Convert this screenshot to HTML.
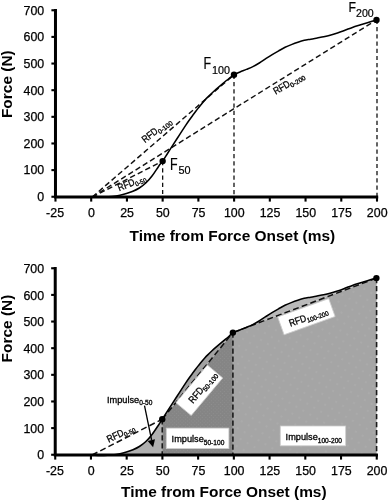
<!DOCTYPE html><html><head><meta charset="utf-8"><title>Force-time curve</title><style>html,body{margin:0;padding:0;background:#fff}svg{display:block}</style></head><body><svg width="388" height="500" viewBox="0 0 388 500" font-family="'Liberation Sans', Arial, sans-serif"><rect width="388" height="500" fill="#fff"/><defs><pattern id="pd" width="2.6" height="2.6" patternUnits="userSpaceOnUse" patternTransform="rotate(45)"><rect width="2.6" height="2.6" fill="#858585"/><circle cx="1.3" cy="1.3" r="0.5" fill="#929292"/></pattern><pattern id="pl" width="8" height="8" patternUnits="userSpaceOnUse" patternTransform="rotate(30)"><rect width="8" height="8" fill="#a5a5a5"/><circle cx="4" cy="4" r="0.9" fill="#adadad"/></pattern></defs><path d="M92.30 197.00 L234.00 74.80" stroke="#111" stroke-width="1.45" stroke-dasharray="5.4 3.1" fill="none"/><path d="M92.30 197.00 L376.50 19.90" stroke="#111" stroke-width="1.45" stroke-dasharray="5.4 3.1" fill="none"/><path d="M92.30 197.00 L162.65 161.10" stroke="#111" stroke-width="1.45" stroke-dasharray="5.4 3.1" fill="none"/><path d="M162.65 161.10 L162.65 197.00" stroke="#111" stroke-width="1.3" stroke-dasharray="4.2 3" fill="none"/><path d="M234.00 74.80 L234.00 197.00" stroke="#111" stroke-width="1.3" stroke-dasharray="4.2 3" fill="none"/><path d="M377.00 19.90 L377.00 197.00" stroke="#111" stroke-width="1.3" stroke-dasharray="4.2 3" fill="none"/><path d="M92.30 197.00 C94.25 196.99 100.72 197.03 104.00 196.95 C107.28 196.87 109.33 196.78 112.00 196.50 C114.67 196.22 117.60 195.78 120.00 195.30 C122.40 194.82 124.25 194.27 126.40 193.60 C128.55 192.93 130.75 192.23 132.90 191.30 C135.05 190.37 137.15 189.38 139.30 188.00 C141.45 186.62 143.65 185.05 145.80 183.00 C147.95 180.95 150.05 178.50 152.20 175.70 C154.35 172.90 156.96 168.63 158.70 166.20 C160.44 163.77 161.13 163.30 162.65 161.10 C164.17 158.90 166.08 155.70 167.80 153.00 C169.53 150.30 171.05 147.93 173.00 144.90 C174.95 141.87 177.33 138.13 179.50 134.80 C181.67 131.47 184.42 127.28 186.00 124.90 C187.58 122.52 187.92 122.03 189.00 120.50 C190.08 118.97 191.33 117.28 192.50 115.70 C193.67 114.12 194.92 112.42 196.00 111.00 C197.08 109.58 198.00 108.45 199.00 107.20 C200.00 105.95 201.00 104.70 202.00 103.50 C203.00 102.30 204.00 101.11 205.00 100.00 C206.00 98.89 206.83 98.02 208.00 96.85 C209.17 95.68 210.67 94.24 212.00 93.00 C213.33 91.76 214.25 90.93 216.00 89.40 C217.75 87.88 220.33 85.67 222.50 83.85 C224.67 82.03 227.08 80.01 229.00 78.50 C230.92 76.99 232.17 75.88 234.00 74.80 C235.83 73.72 237.93 72.90 240.00 72.00 C242.07 71.10 244.25 70.30 246.40 69.40 C248.55 68.50 250.75 67.67 252.90 66.60 C255.05 65.53 257.15 64.32 259.30 63.00 C261.45 61.68 263.65 60.10 265.80 58.70 C267.95 57.30 270.05 55.92 272.20 54.60 C274.35 53.28 276.55 52.02 278.70 50.80 C280.85 49.58 282.98 48.33 285.10 47.30 C287.22 46.27 289.27 45.45 291.40 44.60 C293.53 43.75 295.75 42.92 297.90 42.20 C300.05 41.48 302.15 40.80 304.30 40.30 C306.45 39.80 308.65 39.58 310.80 39.20 C312.95 38.82 315.05 38.40 317.20 38.00 C319.35 37.60 321.55 37.25 323.70 36.80 C325.85 36.35 327.80 35.93 330.10 35.30 C332.40 34.67 335.03 33.83 337.50 33.00 C339.97 32.17 342.42 31.23 344.90 30.30 C347.38 29.37 349.90 28.28 352.40 27.40 C354.90 26.52 357.40 25.78 359.90 25.00 C362.40 24.22 364.63 23.55 367.40 22.70 C370.17 21.85 374.98 20.37 376.50 19.90" stroke="#000" stroke-width="1.55" fill="none"/><circle cx="162.65" cy="161.10" r="3.2" fill="#000"/><circle cx="234.00" cy="74.80" r="3.2" fill="#000"/><circle cx="376.50" cy="19.90" r="3.2" fill="#000"/><g stroke="#000" stroke-width="3.0" fill="none"><path d="M55.48 8.90 V197.00 H378.20"/></g><g stroke="#000" stroke-width="2.1" fill="none"><path d="M51.40 196.75 H55.48"/><path d="M51.40 170.11 H55.48"/><path d="M51.40 143.47 H55.48"/><path d="M51.40 116.83 H55.48"/><path d="M51.40 90.19 H55.48"/><path d="M51.40 63.55 H55.48"/><path d="M51.40 36.91 H55.48"/><path d="M51.40 10.27 H55.48"/><path d="M55.48 197.00 V201.60"/><path d="M91.20 197.00 V201.60"/><path d="M126.93 197.00 V201.60"/><path d="M162.65 197.00 V201.60"/><path d="M198.38 197.00 V201.60"/><path d="M234.10 197.00 V201.60"/><path d="M269.82 197.00 V201.60"/><path d="M305.55 197.00 V201.60"/><path d="M341.28 197.00 V201.60"/><path d="M377.00 197.00 V201.60"/></g><g font-size="12.4" fill="#000" stroke="#000" stroke-width="0.25"><text x="44.20" y="201.10" text-anchor="end">0</text><text x="44.20" y="174.46" text-anchor="end">100</text><text x="44.20" y="147.82" text-anchor="end">200</text><text x="44.20" y="121.18" text-anchor="end">300</text><text x="44.20" y="94.54" text-anchor="end">400</text><text x="44.20" y="67.90" text-anchor="end">500</text><text x="44.20" y="41.26" text-anchor="end">600</text><text x="44.20" y="14.62" text-anchor="end">700</text><text x="55.08" y="217.30" text-anchor="middle">-25</text><text x="91.40" y="217.30" text-anchor="middle">0</text><text x="127.13" y="217.30" text-anchor="middle">25</text><text x="162.85" y="217.30" text-anchor="middle">50</text><text x="198.57" y="217.30" text-anchor="middle">75</text><text x="234.30" y="217.30" text-anchor="middle">100</text><text x="270.02" y="217.30" text-anchor="middle">125</text><text x="305.75" y="217.30" text-anchor="middle">150</text><text x="341.48" y="217.30" text-anchor="middle">175</text><text x="377.20" y="217.30" text-anchor="middle">200</text></g><text x="232.40" y="241.00" text-anchor="middle" font-size="15.45" font-weight="bold">Time from Force Onset (ms)</text><text transform="translate(12.4 84.20) rotate(-90)" text-anchor="middle" font-size="15.45" font-weight="bold">Force (N)</text><text transform="translate(170.10 169.60) rotate(0.00)" font-size="16" stroke="#000" stroke-width="0.2"><tspan textLength="7.60" lengthAdjust="spacingAndGlyphs">F</tspan><tspan font-size="10.5" dx="0.8" dy="4.6" textLength="12.10" lengthAdjust="spacingAndGlyphs">50</tspan></text><text transform="translate(203.50 68.90) rotate(0.00)" font-size="16" stroke="#000" stroke-width="0.2"><tspan textLength="7.60" lengthAdjust="spacingAndGlyphs">F</tspan><tspan font-size="10.5" dx="0.8" dy="4.6" textLength="18.00" lengthAdjust="spacingAndGlyphs">100</tspan></text><text transform="translate(348.40 12.10) rotate(0.00)" font-size="15.4" stroke="#000" stroke-width="0.2"><tspan textLength="7.50" lengthAdjust="spacingAndGlyphs">F</tspan><tspan font-size="10.5" dx="0.1" dy="4.6" textLength="17.70" lengthAdjust="spacingAndGlyphs">200</tspan></text><text transform="translate(144.90 143.20) rotate(-37.50)" font-size="10" stroke="#000" stroke-width="0.3"><tspan textLength="17.40" lengthAdjust="spacingAndGlyphs">RFD</tspan><tspan font-size="6.6" dx="0" dy="2">0-100</tspan></text><text transform="translate(275.70 94.80) rotate(-30.50)" font-size="10" stroke="#000" stroke-width="0.3"><tspan textLength="17.40" lengthAdjust="spacingAndGlyphs">RFD</tspan><tspan font-size="6.6" dx="0" dy="2">0-200</tspan></text><text transform="translate(119.30 191.20) rotate(-22.00)" font-size="10" stroke="#000" stroke-width="0.3"><tspan textLength="17.40" lengthAdjust="spacingAndGlyphs">RFD</tspan><tspan font-size="6.6" dx="0" dy="2" textLength="12.00" lengthAdjust="spacingAndGlyphs">0-50</tspan></text><path d="M92.05 455.00 C94.05 455.07 100.72 455.45 104.05 455.45 C107.38 455.45 109.38 455.27 112.05 455.00 C114.72 454.73 117.65 454.28 120.05 453.80 C122.45 453.32 124.30 452.77 126.45 452.10 C128.60 451.43 130.80 450.73 132.95 449.80 C135.10 448.87 137.20 447.88 139.35 446.50 C141.50 445.12 143.70 443.55 145.85 441.50 C148.00 439.45 150.10 437.00 152.25 434.20 C154.40 431.40 157.08 427.20 158.75 424.70 C160.42 422.20 161.67 420.12 162.25 419.20 L162.25 455.00 Z" fill="#b0b0b0"/><path d="M162.25 419.20 L232.90 332.60 V455.00 H162.25 Z" fill="url(#pd)"/><path d="M162.25 419.20 C163.13 417.83 165.80 413.72 167.55 411.00 C169.30 408.28 170.80 405.93 172.75 402.90 C174.70 399.87 177.08 396.13 179.25 392.80 C181.42 389.47 184.17 385.28 185.75 382.90 C187.33 380.52 187.67 380.03 188.75 378.50 C189.83 376.97 191.08 375.28 192.25 373.70 C193.42 372.12 194.67 370.42 195.75 369.00 C196.83 367.58 197.75 366.45 198.75 365.20 C199.75 363.95 200.75 362.70 201.75 361.50 C202.75 360.30 203.75 359.11 204.75 358.00 C205.75 356.89 206.58 356.02 207.75 354.85 C208.92 353.68 210.42 352.24 211.75 351.00 C213.08 349.76 214.00 348.92 215.75 347.40 C217.50 345.88 220.08 343.67 222.25 341.85 C224.42 340.03 226.97 338.04 228.75 336.50 C230.53 334.96 232.21 333.25 232.90 332.60 Z" fill="#a2a2a2"/><path d="M232.90 332.60 L376.60 278.10 V455.00 H232.90 Z" fill="url(#pl)"/><path d="M232.90 332.60 C234.04 332.17 237.55 330.87 239.76 330.00 C241.97 329.13 244.02 328.30 246.17 327.40 C248.33 326.50 250.53 325.67 252.68 324.60 C254.84 323.53 256.94 322.32 259.10 321.00 C261.25 319.68 263.45 318.10 265.61 316.70 C267.76 315.30 269.86 313.92 272.02 312.60 C274.17 311.28 276.38 310.02 278.53 308.80 C280.68 307.58 282.82 306.33 284.94 305.30 C287.06 304.27 289.11 303.45 291.25 302.60 C293.39 301.75 295.61 300.92 297.76 300.20 C299.92 299.48 302.02 298.80 304.17 298.30 C306.33 297.80 308.53 297.58 310.69 297.20 C312.84 296.82 314.94 296.40 317.10 296.00 C319.25 295.60 321.45 295.25 323.61 294.80 C325.76 294.35 327.71 293.93 330.02 293.30 C332.32 292.67 334.96 291.83 337.43 291.00 C339.90 290.17 342.36 289.23 344.84 288.30 C347.33 287.37 349.85 286.28 352.36 285.40 C354.86 284.52 357.37 283.78 359.87 283.00 C362.38 282.22 364.63 281.52 367.38 280.70 C370.14 279.88 374.90 278.53 376.40 278.10 Z" fill="#bababa"/><path d="M92.05 455.00 L162.25 419.20" stroke="#111" stroke-width="1.5" stroke-dasharray="6 3.2" fill="none"/><path d="M162.25 419.20 L232.90 332.60" stroke="#111" stroke-width="1.5" stroke-dasharray="6 3.2" fill="none"/><path d="M232.90 332.60 L376.40 278.10" stroke="#111" stroke-width="1.5" stroke-dasharray="6 3.2" fill="none"/><path d="M162.25 419.20 L162.25 455.00" stroke="#1a1a1a" stroke-width="1.6" stroke-dasharray="5.2 2.8" fill="none"/><path d="M232.90 332.60 L232.90 455.00" stroke="#1a1a1a" stroke-width="1.6" stroke-dasharray="5.2 2.8" fill="none"/><path d="M376.60 278.10 L376.60 455.00" stroke="#1a1a1a" stroke-width="1.6" stroke-dasharray="5.2 2.8" fill="none"/><path d="M92.05 455.00 C94.05 455.07 100.72 455.45 104.05 455.45 C107.38 455.45 109.38 455.27 112.05 455.00 C114.72 454.73 117.65 454.28 120.05 453.80 C122.45 453.32 124.30 452.77 126.45 452.10 C128.60 451.43 130.80 450.73 132.95 449.80 C135.10 448.87 137.20 447.88 139.35 446.50 C141.50 445.12 143.70 443.55 145.85 441.50 C148.00 439.45 150.10 437.00 152.25 434.20 C154.40 431.40 157.08 427.20 158.75 424.70 C160.42 422.20 160.78 421.48 162.25 419.20 C163.72 416.92 165.80 413.72 167.55 411.00 C169.30 408.28 170.80 405.93 172.75 402.90 C174.70 399.87 177.08 396.13 179.25 392.80 C181.42 389.47 184.17 385.28 185.75 382.90 C187.33 380.52 187.67 380.03 188.75 378.50 C189.83 376.97 191.08 375.28 192.25 373.70 C193.42 372.12 194.67 370.42 195.75 369.00 C196.83 367.58 197.75 366.45 198.75 365.20 C199.75 363.95 200.75 362.70 201.75 361.50 C202.75 360.30 203.75 359.11 204.75 358.00 C205.75 356.89 206.58 356.02 207.75 354.85 C208.92 353.68 210.42 352.24 211.75 351.00 C213.08 349.76 214.00 348.92 215.75 347.40 C217.50 345.88 220.08 343.67 222.25 341.85 C224.42 340.03 226.97 338.04 228.75 336.50 C230.53 334.96 231.06 333.68 232.90 332.60 C234.74 331.52 237.55 330.87 239.76 330.00 C241.97 329.13 244.02 328.30 246.17 327.40 C248.33 326.50 250.53 325.67 252.68 324.60 C254.84 323.53 256.94 322.32 259.10 321.00 C261.25 319.68 263.45 318.10 265.61 316.70 C267.76 315.30 269.86 313.92 272.02 312.60 C274.17 311.28 276.38 310.02 278.53 308.80 C280.68 307.58 282.82 306.33 284.94 305.30 C287.06 304.27 289.11 303.45 291.25 302.60 C293.39 301.75 295.61 300.92 297.76 300.20 C299.92 299.48 302.02 298.80 304.17 298.30 C306.33 297.80 308.53 297.58 310.69 297.20 C312.84 296.82 314.94 296.40 317.10 296.00 C319.25 295.60 321.45 295.25 323.61 294.80 C325.76 294.35 327.71 293.93 330.02 293.30 C332.32 292.67 334.96 291.83 337.43 291.00 C339.90 290.17 342.36 289.23 344.84 288.30 C347.33 287.37 349.85 286.28 352.36 285.40 C354.86 284.52 357.37 283.78 359.87 283.00 C362.38 282.22 364.63 281.52 367.38 280.70 C370.14 279.88 374.90 278.53 376.40 278.10" stroke="#000" stroke-width="1.55" fill="none"/><circle cx="162.25" cy="419.20" r="3.2" fill="#000"/><circle cx="232.90" cy="332.60" r="3.2" fill="#000"/><circle cx="376.40" cy="278.10" r="3.2" fill="#000"/><rect x="166.3" y="428.1" width="62.6" height="20.5" fill="#fff" stroke="#ccc" stroke-width="0.8"/><rect x="280.3" y="426" width="65.4" height="19.8" fill="#fff" stroke="#ccc" stroke-width="0.8"/><g transform="translate(199.3 390.3) rotate(-50)"><rect x="-24.5" y="-10" width="49" height="20" fill="#fff" stroke="#ccc" stroke-width="0.8"/></g><g transform="translate(306.4 316.7) rotate(-19.7)"><rect x="-27.1" y="-9.5" width="54.2" height="19" fill="#fff" stroke="#ccc" stroke-width="0.8"/></g><text transform="translate(108.80 442.70) rotate(-25.50)" font-size="10" stroke="#000" stroke-width="0.3"><tspan textLength="17.40" lengthAdjust="spacingAndGlyphs">RFD</tspan><tspan font-size="6.6" dx="0" dy="2" textLength="12.00" lengthAdjust="spacingAndGlyphs">0-50</tspan></text><text transform="translate(193.00 404.00) rotate(-50.00)" font-size="10" stroke="#000" stroke-width="0.3"><tspan textLength="17.40" lengthAdjust="spacingAndGlyphs">RFD</tspan><tspan font-size="6.6" dx="0" dy="2">50-100</tspan></text><text transform="translate(290.60 326.80) rotate(-19.70)" font-size="10" stroke="#000" stroke-width="0.3"><tspan textLength="17.40" lengthAdjust="spacingAndGlyphs">RFD</tspan><tspan font-size="6.6" dx="0" dy="2" textLength="22.90" lengthAdjust="spacingAndGlyphs">100-200</tspan></text><text transform="translate(107.00 402.50) rotate(0.00)" font-size="9.3" stroke="#000" stroke-width="0.3"><tspan textLength="32.20" lengthAdjust="spacingAndGlyphs">Impulse</tspan><tspan font-size="6.6" dx="0" dy="2.8">0-50</tspan></text><text transform="translate(171.60 442.00) rotate(0.00)" font-size="9.3" stroke="#000" stroke-width="0.3"><tspan textLength="32.20" lengthAdjust="spacingAndGlyphs">Impulse</tspan><tspan font-size="6.6" dx="0" dy="2.8">50-100</tspan></text><text transform="translate(285.60 439.90) rotate(0.00)" font-size="9.3" stroke="#000" stroke-width="0.3"><tspan textLength="32.20" lengthAdjust="spacingAndGlyphs">Impulse</tspan><tspan font-size="6.6" dx="0" dy="2.8">100-200</tspan></text><path d="M144.5 405.6 L151.6 440" stroke="#000" stroke-width="1.3" fill="none"/><path d="M153.1 447.3 L147.7 440.9 L155 439.2 Z" fill="#000"/><g stroke="#000" stroke-width="3.0" fill="none"><path d="M55.23 266.90 V455.00 H377.95"/></g><g stroke="#000" stroke-width="2.1" fill="none"><path d="M51.15 454.75 H55.23"/><path d="M51.15 428.11 H55.23"/><path d="M51.15 401.47 H55.23"/><path d="M51.15 374.83 H55.23"/><path d="M51.15 348.19 H55.23"/><path d="M51.15 321.55 H55.23"/><path d="M51.15 294.91 H55.23"/><path d="M51.15 268.27 H55.23"/><path d="M55.23 455.00 V459.60"/><path d="M90.95 455.00 V459.60"/><path d="M126.68 455.00 V459.60"/><path d="M162.40 455.00 V459.60"/><path d="M198.12 455.00 V459.60"/><path d="M233.85 455.00 V459.60"/><path d="M269.57 455.00 V459.60"/><path d="M305.30 455.00 V459.60"/><path d="M341.03 455.00 V459.60"/><path d="M376.75 455.00 V459.60"/></g><g font-size="12.4" fill="#000" stroke="#000" stroke-width="0.25"><text x="44.08" y="459.40" text-anchor="end">0</text><text x="44.08" y="432.76" text-anchor="end">100</text><text x="44.08" y="406.12" text-anchor="end">200</text><text x="44.08" y="379.48" text-anchor="end">300</text><text x="44.08" y="352.84" text-anchor="end">400</text><text x="44.08" y="326.20" text-anchor="end">500</text><text x="44.08" y="299.56" text-anchor="end">600</text><text x="44.08" y="272.92" text-anchor="end">700</text><text x="54.95" y="475.30" text-anchor="middle">-25</text><text x="91.28" y="475.30" text-anchor="middle">0</text><text x="127.00" y="475.30" text-anchor="middle">25</text><text x="162.72" y="475.30" text-anchor="middle">50</text><text x="198.45" y="475.30" text-anchor="middle">75</text><text x="234.18" y="475.30" text-anchor="middle">100</text><text x="269.90" y="475.30" text-anchor="middle">125</text><text x="305.62" y="475.30" text-anchor="middle">150</text><text x="341.35" y="475.30" text-anchor="middle">175</text><text x="377.07" y="475.30" text-anchor="middle">200</text></g><text x="223.80" y="496.70" text-anchor="middle" font-size="15.45" font-weight="bold">Time from Force Onset (ms)</text><text transform="translate(12.4 328.50) rotate(-90)" text-anchor="middle" font-size="15.45" font-weight="bold">Force (N)</text></svg></body></html>
